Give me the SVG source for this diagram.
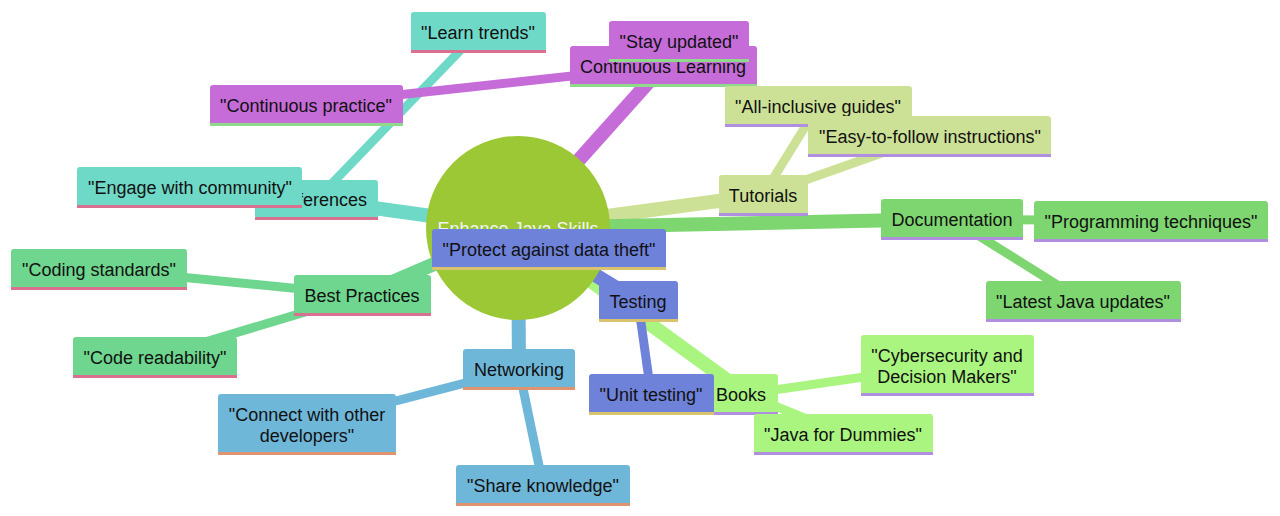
<svg xmlns="http://www.w3.org/2000/svg" width="1280" height="516" viewBox="0 0 1280 516">
<style>
text{font-family:"Liberation Sans",Arial,sans-serif;font-size:18px;fill:#111;text-anchor:middle;dominant-baseline:central}
.e{stroke-linecap:butt;fill:none}
.teal{fill:#6fd9c8}.pur{fill:#c56cd9}.tut{fill:#cde196}.doc{fill:#7ed670}.bp{fill:#6ed68e}.bk{fill:#aaf580}.net{fill:#6fb7d9}.tst{fill:#6f82d9}
</style>
<rect width="1280" height="516" fill="#fff"/>
<g id="connectors" class="e">
<line x1="518" y1="228" x2="316" y2="200" stroke="#6fd9c8" stroke-width="14"/>
<line x1="316" y1="200" x2="478" y2="32" stroke="#6fd9c8" stroke-width="9"/>
<line x1="316" y1="200" x2="190" y2="187" stroke="#6fd9c8" stroke-width="9"/>
<line x1="518" y1="228" x2="663" y2="66" stroke="#c56cd9" stroke-width="14"/>
<line x1="663" y1="66" x2="306" y2="105" stroke="#c56cd9" stroke-width="9"/>
<line x1="518" y1="228" x2="763" y2="195" stroke="#cde196" stroke-width="14"/>
<line x1="763" y1="195" x2="818" y2="106" stroke="#cde196" stroke-width="9"/>
<line x1="763" y1="195" x2="930" y2="136" stroke="#cde196" stroke-width="9"/>
<line x1="518" y1="228" x2="952" y2="219" stroke="#7ed670" stroke-width="14"/>
<line x1="952" y1="219" x2="1150" y2="221" stroke="#7ed670" stroke-width="9"/>
<line x1="952" y1="219" x2="1083" y2="301" stroke="#7ed670" stroke-width="9"/>
<line x1="518" y1="228" x2="362" y2="295" stroke="#6ed68e" stroke-width="14"/>
<line x1="362" y1="295" x2="99" y2="269" stroke="#6ed68e" stroke-width="9"/>
<line x1="362" y1="295" x2="155" y2="357" stroke="#6ed68e" stroke-width="9"/>
<line x1="518" y1="228" x2="519" y2="369" stroke="#6fb7d9" stroke-width="14"/>
<line x1="519" y1="369" x2="307" y2="424" stroke="#6fb7d9" stroke-width="9"/>
<line x1="519" y1="369" x2="543" y2="485" stroke="#6fb7d9" stroke-width="9"/>
<line x1="518" y1="228" x2="746" y2="394" stroke="#aaf580" stroke-width="14"/>
<line x1="746" y1="394" x2="947" y2="365" stroke="#aaf580" stroke-width="9"/>
<line x1="746" y1="394" x2="843" y2="434" stroke="#aaf580" stroke-width="9"/>
<line x1="518" y1="228" x2="638" y2="301" stroke="#6f82d9" stroke-width="14"/>
<line x1="638" y1="301" x2="549" y2="249" stroke="#6f82d9" stroke-width="9"/>
<line x1="638" y1="301" x2="651" y2="394" stroke="#6f82d9" stroke-width="9"/>
</g>
<g id="root"><circle cx="518" cy="228" r="92" fill="#9bc834"/><text x="518" y="229" style="fill:#f4f4f4">Enhance Java Skills</text></g>
<g id="learn-trends"><rect class="teal" x="411" y="12" width="135" height="40" rx="3"/><rect x="411" y="50" width="135" height="3" fill="#d9708f"/><text x="478" y="33">"Learn trends"</text></g>
<g id="continuous-learning"><rect class="pur" x="570" y="46" width="187" height="40" rx="3"/><rect x="570" y="84" width="187" height="3" fill="#8fd98a"/><text x="663" y="67">Continuous Learning</text></g>
<g id="stay-updated"><rect class="pur" x="609" y="21" width="140" height="40" rx="3"/><rect x="609" y="59" width="140" height="3" fill="#8fd98a"/><text x="679" y="42">"Stay updated"</text></g>
<g id="continuous-practice"><rect class="pur" x="210" y="85" width="193" height="40" rx="3"/><rect x="210" y="123" width="193" height="3" fill="#8fd98a"/><text x="306" y="106">"Continuous practice"</text></g>
<g id="all-inclusive"><rect class="tut" x="725" y="86" width="187" height="40" rx="3"/><rect x="725" y="124" width="187" height="3" fill="#b08fe0"/><text x="818" y="107">"All-inclusive guides"</text></g>
<g id="easy-follow"><rect class="tut" x="808" y="116" width="243" height="40" rx="3"/><rect x="808" y="154" width="243" height="3" fill="#b08fe0"/><text x="930" y="137">"Easy-to-follow instructions"</text></g>
<g id="conferences"><rect class="teal" x="255" y="180" width="123" height="39" rx="3"/><rect x="255" y="217" width="123" height="3" fill="#d9708f"/><text x="316" y="200">Conferences</text></g>
<g id="engage"><rect class="teal" x="77" y="167" width="225" height="40" rx="3"/><rect x="77" y="205" width="225" height="3" fill="#d9708f"/><text x="190" y="188">"Engage with community"</text></g>
<g id="tutorials"><rect class="tut" x="719" y="175" width="89" height="40" rx="3"/><rect x="719" y="213" width="89" height="3" fill="#b08fe0"/><text x="763" y="196">Tutorials</text></g>
<g id="documentation"><rect class="doc" x="881" y="199" width="142" height="40" rx="3"/><rect x="881" y="237" width="142" height="3" fill="#b08fe0"/><text x="952" y="220">Documentation</text></g>
<g id="programming"><rect class="doc" x="1034" y="201" width="234" height="40" rx="3"/><rect x="1034" y="239" width="234" height="3" fill="#b08fe0"/><text x="1151" y="222">"Programming techniques"</text></g>
<g id="latest"><rect class="doc" x="986" y="281" width="195" height="40" rx="3"/><rect x="986" y="319" width="195" height="3" fill="#b08fe0"/><text x="1083" y="302">"Latest Java updates"</text></g>
<g id="best-practices"><rect class="bp" x="294" y="275" width="137" height="40" rx="3"/><rect x="294" y="313" width="137" height="3" fill="#d9708f"/><text x="362" y="296">Best Practices</text></g>
<g id="coding-standards"><rect class="bp" x="11" y="249" width="176" height="40" rx="3"/><rect x="11" y="287" width="176" height="3" fill="#d9708f"/><text x="99" y="270">"Coding standards"</text></g>
<g id="code-readability"><rect class="bp" x="73" y="337" width="164" height="40" rx="3"/><rect x="73" y="375" width="164" height="3" fill="#d9708f"/><text x="155" y="358">"Code readability"</text></g>
<g id="networking"><rect class="net" x="463" y="349" width="112" height="40" rx="3"/><rect x="463" y="387" width="112" height="3" fill="#e0936f"/><text x="519" y="370">Networking</text></g>
<g id="connect"><rect class="net" x="218" y="394" width="178" height="60" rx="3"/><rect x="218" y="452" width="178" height="3" fill="#e0936f"/><text x="307" y="415">"Connect with other</text><text x="307" y="436">developers"</text></g>
<g id="share"><rect class="net" x="456" y="465" width="174" height="40" rx="3"/><rect x="456" y="503" width="174" height="3" fill="#e0936f"/><text x="543" y="486">"Share knowledge"</text></g>
<g id="books"><rect class="bk" x="714" y="374" width="64" height="40" rx="3"/><rect x="714" y="412" width="64" height="3" fill="#b08fe0"/><text x="741" y="395">Books</text></g>
<g id="cyber"><rect class="bk" x="861" y="335" width="173" height="60" rx="3"/><rect x="861" y="393" width="173" height="3" fill="#b08fe0"/><text x="947" y="356">"Cybersecurity and</text><text x="947" y="377">Decision Makers"</text></g>
<g id="dummies"><rect class="bk" x="754" y="414" width="179" height="40" rx="3"/><rect x="754" y="452" width="179" height="3" fill="#b08fe0"/><text x="843" y="435">"Java for Dummies"</text></g>
<g id="testing"><rect class="tst" x="599" y="281" width="79" height="40" rx="3"/><rect x="599" y="319" width="79" height="3" fill="#d9c36f"/><text x="638" y="302">Testing</text></g>
<g id="protect"><rect class="tst" x="432" y="229" width="234" height="40" rx="3"/><rect x="432" y="267" width="234" height="3" fill="#d9c36f"/><text x="549" y="250">"Protect against data theft"</text></g>
<g id="unit-testing"><rect class="tst" x="589" y="374" width="125" height="40" rx="3"/><rect x="589" y="412" width="125" height="3" fill="#d9c36f"/><text x="651" y="395">"Unit testing"</text></g>
</svg>
